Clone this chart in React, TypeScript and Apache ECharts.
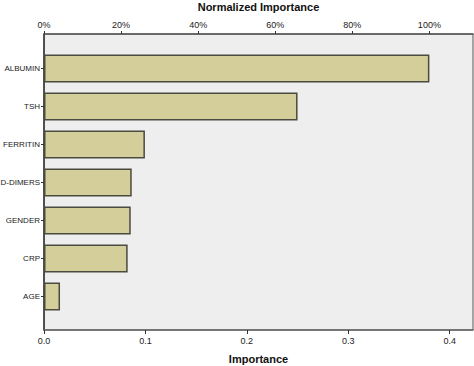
import React, { useEffect, useRef } from "react";
import * as echarts from "echarts";

const categories = ["ALBUMIN", "TSH", "FERRITIN", "D-DIMERS", "GENDER", "CRP", "AGE"];
const importance = [0.380, 0.250, 0.0995, 0.0865, 0.0855, 0.0825, 0.0158];
const maxImportance = 0.423;
const maxNormalized = (maxImportance / importance[0]) * 100;

const FONT = "Liberation Sans, Arial, sans-serif";

export default function App() {
  const ref = useRef<HTMLDivElement>(null);
  useEffect(() => {
    if (!ref.current) return;
    const chart = echarts.init(ref.current, undefined, { renderer: "svg" });
    chart.setOption({
      animation: false,
      textStyle: { fontFamily: FONT },
      grid: [
        {
          left: 44, right: 1, top: 34, bottom: 36, outerBoundsMode: "none", containLabel: false,
          show: true, backgroundColor: "#eeeeee", borderColor: "#555555", borderWidth: 1,
        },
        { left: 44, right: 1, top: 49.5, bottom: 50.5, outerBoundsMode: "none", containLabel: false },
      ],
      xAxis: [
        {
          gridIndex: 0, type: "value", position: "bottom",
          min: 0, max: maxImportance, interval: 0.1,
          axisLine: { show: true, lineStyle: { color: "#666666", width: 1.5 } },
          axisTick: { show: true, length: 4, lineStyle: { color: "#333333" } },
          axisLabel: {
            fontSize: 9, color: "#222222", margin: 6, showMaxLabel: false,
            formatter: (v: number) => v.toFixed(1),
          },
          splitLine: { show: false },
          name: "Importance", nameLocation: "middle", nameGap: 23,
          nameTextStyle: { fontSize: 11, fontWeight: "bold", color: "#111111", fontFamily: FONT },
        },
        {
          gridIndex: 0, type: "value", position: "top",
          min: 0, max: maxNormalized, interval: 20,
          axisLine: { show: true, lineStyle: { color: "#555555", width: 1.5 } },
          axisTick: { show: true, length: 3, lineStyle: { color: "#333333" } },
          axisLabel: {
            fontSize: 9, color: "#222222", margin: 5, showMaxLabel: false,
            formatter: "{value}%",
          },
          splitLine: { show: false },
          name: "Normalized Importance", nameLocation: "middle", nameGap: 22,
          nameTextStyle: { fontSize: 11, fontWeight: "bold", color: "#111111", fontFamily: FONT },
        },
        {
          gridIndex: 1, type: "value", min: 0, max: maxImportance, show: false,
        },
      ],
      yAxis: [
        {
          gridIndex: 0, type: "value", min: 0, max: 1,
          axisLine: { show: true, lineStyle: { color: "#333333", width: 1.5 } },
          axisTick: { show: false }, axisLabel: { show: false }, splitLine: { show: false },
        },
        {
          gridIndex: 1, type: "category", inverse: true, data: categories,
          axisLine: { show: false },
          axisTick: { show: true, length: 3, alignWithLabel: true, lineStyle: { color: "#333333" } },
          axisLabel: { fontSize: 8, color: "#222222", margin: 4 },
        },
      ],
      series: [
        {
          type: "bar", xAxisIndex: 2, yAxisIndex: 1, data: importance, barWidth: 28,
          itemStyle: { color: "#d4cf9a", borderColor: "#4a4a40", borderWidth: 1.5 },
        },
      ],
    });
    return () => chart.dispose();
  }, []);
  return <div ref={ref} style={{ width: 474, height: 366, position: "absolute", left: 0, top: 0 }} />;
}
